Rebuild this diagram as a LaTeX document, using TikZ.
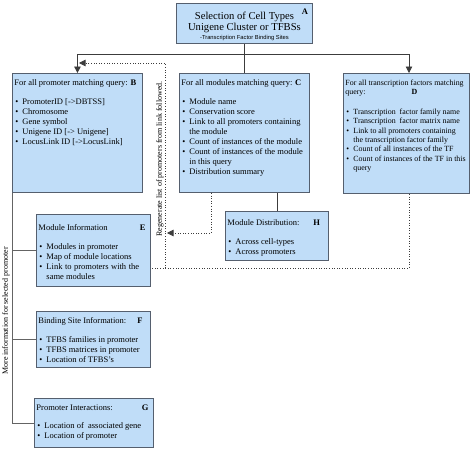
\documentclass[tikz,border=0pt]{standalone}
\usepackage{fontspec}
\setmainfont{Liberation Serif}
\newfontfamily\sansf{Liberation Sans}
\usetikzlibrary{arrows.meta,calc}
\definecolor{boxfill}{RGB}{192,221,248}
\definecolor{boxline}{RGB}{85,95,110}
\definecolor{connline}{RGB}{60,60,60}
\definecolor{treeline}{RGB}{100,100,100}
\newcommand{\bxt}[5][\fontsize{8.5pt}{9.9pt}\selectfont]{\parbox[t][#3pt][t]{#2pt}{#1\setlength{\parindent}{0pt}\leftskip=2pt\rightskip=2pt plus 3em\relax\vspace*{#4pt}#5}}
\newcommand{\hdr}[2][9pt]{#2\par\vspace{#1}}
\newcommand{\itm}[1]{\par\hangindent=8pt\hangafter=1\noindent\hbox to 8pt{\kern1pt\textbullet\hfil}#1}
\begin{document}
\begin{tikzpicture}[x=1pt,y=-1pt,
  box/.style={draw=boxline, fill=boxfill, line width=0.9pt, inner sep=0pt, anchor=north west},
  conn/.style={draw=connline, line width=0.8pt},
  tree/.style={draw=treeline, line width=0.8pt},
  dotl/.style={draw=connline, line width=0.8pt, dash pattern=on 0.8pt off 1.8pt},
  arr/.style={-{Triangle[length=6.5pt,width=6.5pt]}},
  rot/.style={rotate=90, font=\fontsize{8pt}{9pt}\selectfont, inner sep=0pt},
  lbl/.style={font=\fontsize{8.5pt}{9pt}\selectfont\bfseries, inner sep=0pt}]
\fill[white] (0,0) rectangle (474,474);
\useasboundingbox (0,0) rectangle (474,474);

\node[box] (A) at (176,3) {\parbox[t][40pt][t]{136pt}{\centering\fontsize{10.6pt}{11pt}\selectfont\vspace*{8.5pt}Selection of Cell Types\\Unigene Cluster or TFBSs\\[-1.5pt]{\sansf\fontsize{5.8pt}{7pt}\selectfont -Transcription Factor Binding Sites}}};
\node[lbl] (AL) at (305,12) {A};

\node[box] (B) at (12,73) {\bxt{130}{119}{6.5}{\hdr{For all promoter matching query: \textbf{B}}\itm{PromoterID [->DBTSS]}\itm{Chromosome}\itm{Gene symbol}\itm{Unigene ID [-> Unigene]}\itm{LocusLink ID [->LocusLink]}}};

\node[box] (C) at (179,73) {\bxt{130}{119}{6.5}{\hdr{For all modules matching query: \textbf{C}}\itm{Module name}\itm{Conservation score}\itm{Link to all promoters containing the module}\itm{Count of instances of the module}\itm{Count of instances of the module in this query}\itm{Distribution summary}}};

\node[box] (D) at (343,73) {\bxt[\fontsize{7.9pt}{9.3pt}\selectfont]{126}{120}{6.5}{\hdr[10.5pt]{For all transcription factors matching query:\hfill\textbf{D}\kern50pt}\itm{Transcription\ \ factor family name}\itm{Transcription\ \ factor matrix name}\itm{Link to all promoters containing\newline the transcription factor family}\itm{Count of all instances of the TF}\itm{Count of instances of the TF in this query}}};

\node[box] (E) at (36,214) {\bxt{114}{72}{10.5}{\hdr{Module Information\hfill\textbf{E}\kern3pt}\itm{Modules in promoter}\itm{Map of module locations}\itm{Link to promoters with the same modules}}};

\node[box] (H) at (225,211) {\bxt{103}{49}{8.5}{\hdr{Module Distribution:\hspace{14pt}\textbf{H}}\itm{Across cell-types}\itm{Across promoters}}};

\node[box] (F) at (36,311) {\bxt{114}{56}{6.5}{\hdr{Binding Site Information:\hspace{11pt}\textbf{F}}\itm{TFBS families in promoter}\itm{TFBS matrices in promoter}\itm{Location of TFBS's}}};

\node[box] (G) at (34,398) {\bxt{119}{49}{6}{\hdr{Promoter Interactions:\hfill\textbf{G}\kern3pt}\itm{Location of\ \ associated gene}\itm{Location of promoter}}};

\node[rot] (regen) at (160,159) {Regenerate list of promoters from link followed.};
\node[rot] (more) at (6,311) {More information for selected promoter};

% main tree
\coordinate (hub) at (244,54);
\draw[conn] (A.south) -- (C.north);
\draw[conn,arr] (hub) -| (B.north);
\draw[conn,arr] (hub) -| ($(D.north west)+(66,0)$);
\draw[conn] (H.north |- C.south) -- (H.north);

% dotted feedback
\coordinate (dj) at (165,268);
\coordinate (bRet) at (79,63);
\coordinate (rIn) at (167,233);
\draw[dotl] ($(D.south west)+(66,0)$) |- (E.east |- dj);
\draw[dotl,arr] (dj) |- (bRet);
\draw[dotl,arr] ($(C.south west)+(32,0)$) |- (rIn);

% left tree
\draw[tree] (B.south west) |- (G.west);
\draw[tree] (B.south west |- E.west) -- (E.west);
\draw[tree] (B.south west |- F.west) -- (F.west);
\end{tikzpicture}
\end{document}
